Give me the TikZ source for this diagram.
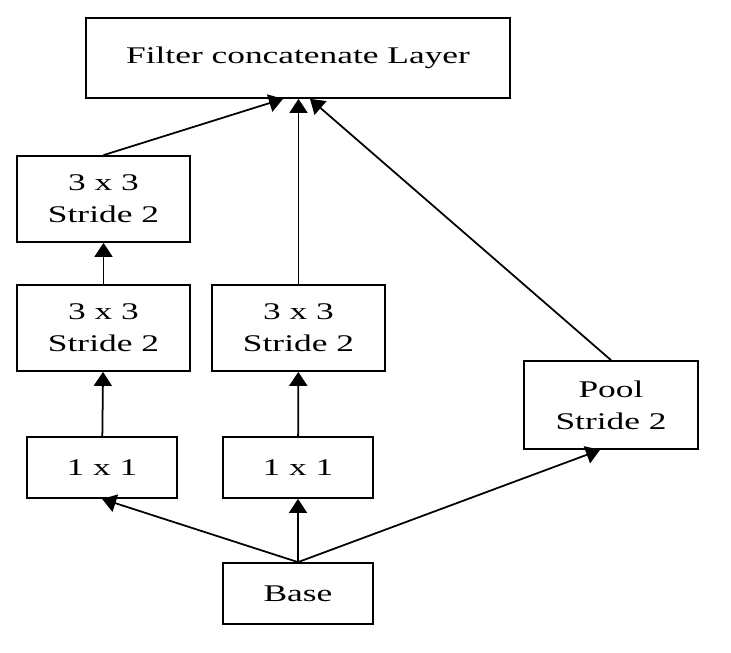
\documentclass[tikz,border=0pt]{standalone}
\usepackage{fontspec}
\setmainfont{Liberation Serif}[FakeStretch=1.48]
\usetikzlibrary{positioning,arrows.meta,calc}
\tikzset{
  blk/.style={draw, line width=1pt, align=center, inner sep=0pt, font=\fontsize{13.6}{18}\selectfont},
  wide/.style={blk, minimum width=3.46cm, minimum height=1.72cm},
  small/.style={blk, minimum width=3cm, minimum height=1.22cm},
  fl/.style={-{Triangle[length=2.8mm, width=3.6mm]}, line width=1pt},
}

\begin{document}
\begin{tikzpicture}
\useasboundingbox (0,0) rectangle (14.62,-13.04);
\node[blk, minimum width=8.48cm, minimum height=1.6cm] (cat) at (5.96,-1.16) {Filter concatenate Layer};
\node[wide] (tl) at (2.07,-3.98) {3 x 3\\Stride 2};
\node[wide] (ml) at (2.07,-6.56) {3 x 3\\Stride 2};
\node[wide] (mm) at (5.97,-6.56) {3 x 3\\Stride 2};
\node[small] (la) at (2.04,-9.35) {1 x 1};
\node[small] (ma) at (5.96,-9.35) {1 x 1};
\node[wide, minimum width=3.48cm, minimum height=1.76cm] (pool) at (12.22,-8.10) {Pool\\Stride 2};
\node[small] (base) at (5.96,-11.87) {Base};
\draw[fl] (tl.north) -- ([xshift=-0.3cm]cat.south);
\draw[fl] (mm.north) -- (mm.north |- cat.south);
\draw[fl] (pool.north) -- ([xshift=0.24cm]cat.south);
\draw[fl] (ml) -- (tl);
\draw[fl] (la) -- (ml);
\draw[fl] (ma) -- (mm);
\draw[fl] (base.north) -- (la.south);
\draw[fl] (base) -- (ma);
\draw[fl] (base.north) -- ([xshift=-0.22cm]pool.south);
\end{tikzpicture}
\end{document}
